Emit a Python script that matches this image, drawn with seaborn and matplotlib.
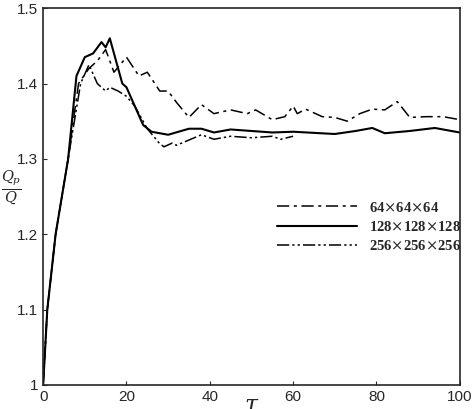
import matplotlib
matplotlib.use('Agg')
import matplotlib.pyplot as plt
import seaborn as sns
import numpy as np

tau_64 = [0, 1, 3, 6, 8.5, 11, 13, 15, 17, 20, 23, 25, 28, 30, 32, 35, 38, 41, 45, 49, 51, 55, 58, 60, 61, 63, 67, 70, 73, 76, 79, 82, 85, 88, 92, 96, 100]
q_64 = [1.0, 1.1, 1.2, 1.3, 1.4, 1.42, 1.43, 1.445, 1.415, 1.435, 1.41, 1.415, 1.39, 1.39, 1.375, 1.355, 1.372, 1.36, 1.365, 1.36, 1.365, 1.352, 1.356, 1.37, 1.36, 1.366, 1.356, 1.355, 1.35, 1.36, 1.366, 1.365, 1.376, 1.355, 1.356, 1.356, 1.352]

tau_128 = [0, 1, 3, 6, 8, 10, 12, 14, 15, 16, 17, 19, 20, 22, 24, 26, 30, 35, 38, 41, 45, 50, 55, 60, 70, 75, 79, 82, 88, 94, 100]
q_128 = [1.0, 1.1, 1.2, 1.3, 1.41, 1.435, 1.44, 1.455, 1.448, 1.46, 1.44, 1.40, 1.395, 1.37, 1.345, 1.336, 1.332, 1.34, 1.34, 1.335, 1.339, 1.337, 1.335, 1.336, 1.333, 1.337, 1.341, 1.334, 1.337, 1.341, 1.335]

tau_256 = [0, 1, 3, 6, 9, 11, 13, 15, 16, 18, 20, 22, 25, 28, 29, 31, 32, 35, 38, 41, 45, 50, 55, 57, 60]
q_256 = [1.0, 1.1, 1.2, 1.3, 1.40, 1.425, 1.40, 1.39, 1.395, 1.39, 1.383, 1.37, 1.34, 1.32, 1.316, 1.321, 1.318, 1.325, 1.332, 1.326, 1.33, 1.328, 1.33, 1.326, 1.33]

labels = [r'64$\times$64$\times$64', r'128$\times$128$\times$128', r'256$\times$256$\times$256']

sns.set_style('ticks')
plt.rcParams['font.family'] = ['Liberation Sans', 'DejaVu Sans']
plt.rcParams['mathtext.fontset'] = 'dejavuserif'

fig = plt.figure(figsize=(4.74, 4.09), dpi=100)
ax = fig.add_axes([0.091, 0.059, 0.879, 0.921])

sns.lineplot(x=tau_64, y=q_64, ax=ax, color='black', lw=1.1, label=labels[0])
sns.lineplot(x=tau_128, y=q_128, ax=ax, color='black', lw=1.5, label=labels[1])
sns.lineplot(x=tau_256, y=q_256, ax=ax, color='black', lw=1.1, label=labels[2])
ax.lines[0].set_dashes([8, 3, 2, 3])
ax.lines[2].set_dashes([8, 2, 1.5, 2, 1.5, 2])
leg_dashes = [[8, 3, 2, 3], None, [8, 2, 1.5, 2, 1.5, 2]]

ax.set_xlim(0, 100)
ax.set_ylim(1, 1.5)
ax.set_xticks([0, 20, 40, 60, 80, 100])
ax.set_xticklabels(['0', '20', '40', '60', '80', '100'])
ax.set_yticks([1, 1.1, 1.2, 1.3, 1.4, 1.5])
ax.set_yticklabels(['1', '1.1', '1.2', '1.3', '1.4', '1.5'])
ax.tick_params(direction='in', length=3, labelsize=11)
for s in ax.spines.values():
    s.set_linewidth(1.2)

ax.set_xlabel(r'$\tau$', fontsize=17, labelpad=-7)
ax.set_ylabel(r'$\frac{Q_p}{Q}$', fontsize=15, rotation=0)
ax.yaxis.set_label_coords(-0.075, 0.47)

leg = ax.legend(loc='center left', bbox_to_anchor=(0.53, 0.42), frameon=False, handlelength=5.5,
                prop={'family': 'Liberation Serif', 'weight': 'bold', 'size': 10.5}, labelspacing=0.35)
for h, d in zip(leg.get_lines(), leg_dashes):
    if d:
        h.set_dashes(d)

fig.savefig('out.png', dpi=100)
